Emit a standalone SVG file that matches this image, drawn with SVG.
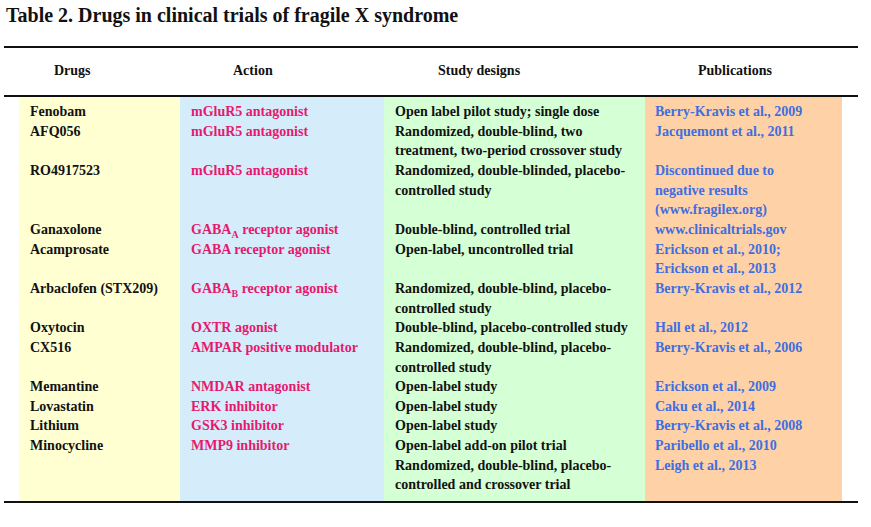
<svg xmlns="http://www.w3.org/2000/svg" width="871" height="527" viewBox="0 0 871 527">
<style>
text{font-family:"Liberation Serif","Times New Roman",serif;font-weight:bold;font-size:14px;fill:#111}
.t{font-size:20px}
.a{fill:#e6196e}
.p{fill:#3f6ee0}
.s{font-size:10px}
</style>
<rect width="871" height="527" fill="#fff"/>
<text class="t" x="6" y="22">Table 2. Drugs in clinical trials of fragile X syndrome</text>
<g id="backgrounds">
<rect x="19" y="97" width="161" height="404" fill="#ffffd2"/>
<rect x="180" y="97" width="204" height="404" fill="#d5ecfb"/>
<rect x="384" y="97" width="261" height="404" fill="#d5ffd5"/>
<rect x="645" y="97" width="197" height="404" fill="#fed2a6"/>
</g>
<g id="rules" stroke="#111">
<line x1="4" y1="47" x2="858" y2="47" stroke-width="2"/>
<line x1="4" y1="96" x2="858" y2="96" stroke-width="2"/>
<line x1="4" y1="502" x2="858" y2="502" stroke-width="2"/>
</g>
<g id="header">
<text x="54" y="75">Drugs</text>
<text x="233" y="75">Action</text>
<text x="438" y="75">Study designs</text>
<text x="698" y="75">Publications</text>
</g>
<g id="drugs">
<text x="30" y="116">Fenobam</text>
<text x="30" y="136">AFQ056</text>
<text x="30" y="175">RO4917523</text>
<text x="30" y="234">Ganaxolone</text>
<text x="30" y="254">Acamprosate</text>
<text x="30" y="293">Arbaclofen (STX209)</text>
<text x="30" y="332">Oxytocin</text>
<text x="30" y="352">CX516</text>
<text x="30" y="391">Memantine</text>
<text x="30" y="411">Lovastatin</text>
<text x="30" y="430">Lithium</text>
<text x="30" y="450">Minocycline</text>
</g>
<g id="action">
<text class="a" x="191" y="116">mGluR5 antagonist</text>
<text class="a" x="191" y="136">mGluR5 antagonist</text>
<text class="a" x="191" y="175">mGluR5 antagonist</text>
<text class="a" x="191" y="234">GABA<tspan class="s" dy="4">A</tspan><tspan dy="-4"> receptor agonist</tspan></text>
<text class="a" x="191" y="254">GABA receptor agonist</text>
<text class="a" x="191" y="293">GABA<tspan class="s" dy="4">B</tspan><tspan dy="-4"> receptor agonist</tspan></text>
<text class="a" x="191" y="332">OXTR agonist</text>
<text class="a" x="191" y="352">AMPAR positive modulator</text>
<text class="a" x="191" y="391">NMDAR antagonist</text>
<text class="a" x="191" y="411">ERK inhibitor</text>
<text class="a" x="191" y="430">GSK3 inhibitor</text>
<text class="a" x="191" y="450">MMP9 inhibitor</text>
</g>
<g id="designs">
<text x="395" y="116">Open label pilot study; single dose</text>
<text x="395" y="136">Randomized, double-blind, two</text>
<text x="395" y="155">treatment, two-period crossover study</text>
<text x="395" y="175">Randomized, double-blinded, placebo-</text>
<text x="395" y="195">controlled study</text>
<text x="395" y="234">Double-blind, controlled trial</text>
<text x="395" y="254">Open-label, uncontrolled trial</text>
<text x="395" y="293">Randomized, double-blind, placebo-</text>
<text x="395" y="313">controlled study</text>
<text x="395" y="332">Double-blind, placebo-controlled study</text>
<text x="395" y="352">Randomized, double-blind, placebo-</text>
<text x="395" y="372">controlled study</text>
<text x="395" y="391">Open-label study</text>
<text x="395" y="411">Open-label study</text>
<text x="395" y="430">Open-label study</text>
<text x="395" y="450">Open-label add-on pilot trial</text>
<text x="395" y="470">Randomized, double-blind, placebo-</text>
<text x="395" y="489">controlled and crossover trial</text>
</g>
<g id="publications">
<text class="p" x="655" y="116">Berry-Kravis et al., 2009</text>
<text class="p" x="655" y="136">Jacquemont et al., 2011</text>
<text class="p" x="655" y="175">Discontinued due to</text>
<text class="p" x="655" y="195">negative results</text>
<text class="p" x="655" y="214">(www.fragilex.org)</text>
<text class="p" x="655" y="234">www.clinicaltrials.gov</text>
<text class="p" x="655" y="254">Erickson et al., 2010;</text>
<text class="p" x="655" y="273">Erickson et al., 2013</text>
<text class="p" x="655" y="293">Berry-Kravis et al., 2012</text>
<text class="p" x="655" y="332">Hall et al., 2012</text>
<text class="p" x="655" y="352">Berry-Kravis et al., 2006</text>
<text class="p" x="655" y="391">Erickson et al., 2009</text>
<text class="p" x="655" y="411">Caku et al., 2014</text>
<text class="p" x="655" y="430">Berry-Kravis et al., 2008</text>
<text class="p" x="655" y="450">Paribello et al., 2010</text>
<text class="p" x="655" y="470">Leigh et al., 2013</text>
</g>
</svg>
